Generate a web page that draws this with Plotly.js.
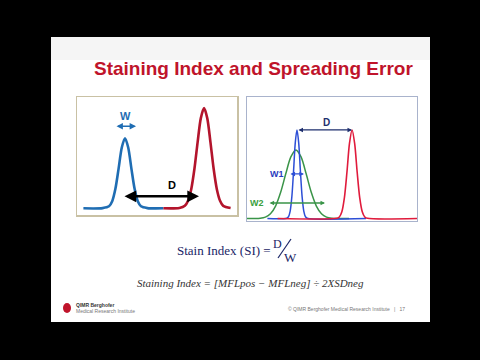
<!DOCTYPE html>
<html><head><meta charset="utf-8">
<script src="https://cdn.plot.ly/plotly-3.0.1.min.js"></script>
<style>html,body{margin:0;padding:0;background:#000;}#chart{width:480px;height:360px;}</style>
</head><body><div id="chart"></div>
<script>
// Left panel: negative (blue) and positive (red) populations
const leftBlueX = [4, 16, 20, 22, 24, 26, 28, 30, 32, 34, 36, 38, 40, 44, 54];
const leftBlueY = [0, 0.2, 1.8, 6.4, 17.5, 35.7, 54.6, 63, 54.6, 35.7, 17.5, 6.4, 1.8, 0.2, 0];
const leftRedX = [54, 64, 67.4, 69.4, 71.4, 73.4, 75.4, 77.4, 79.4, 81.4, 83.4, 85.4, 87.4, 89.4, 91.4, 96];
const leftRedY = [0, 0.3, 2.2, 6.8, 17.2, 35.5, 59.5, 81, 90, 81, 59.5, 35.5, 17.2, 6.8, 2.2, 0.3];
// Right panel: narrow negative (blue), spread negative (green), positive (red)
const rightGreenX = [0, 7.8, 10.8, 13.8, 16.8, 19.8, 22.8, 25.8, 28.8, 31.8, 34.8, 37.8, 40.8, 43.8, 46.8, 49.8, 60];
const rightGreenY = [0, 0.3, 1.2, 3.9, 10.3, 21.6, 36.8, 50.7, 56.4, 50.7, 36.8, 21.6, 10.3, 3.9, 1.2, 0.3, 0];
const rightBlueX = [12, 23.4, 24.4, 25.4, 26.4, 27.4, 28.4, 29.4, 30.4, 31.4, 32.4, 33.4, 34.4, 35.4, 70];
const rightBlueY = [0, 0.3, 1.5, 6.2, 18.2, 39.4, 62.5, 72.9, 62.5, 39.4, 18.2, 6.2, 1.5, 0.3, 0];
const rightRedX = [18, 52.8, 54.3, 55.8, 57.3, 58.8, 60.3, 61.8, 63.3, 64.8, 66.3, 67.8, 69.3, 70.8, 100];
const rightRedY = [0, 0.2, 1.3, 5.6, 17.2, 38.3, 62, 72.9, 62, 38.3, 17.2, 5.6, 1.3, 0.2, 0];
// Measurement arrows [x start, x end, y] and labels
const leftW = [23.75, 36.9, 73.7];
const leftD = [28.75, 76.25, 10.8];
const rightD = [29.4, 61.8, 72.9];
const rightW1 = [24.7, 33.5, 36.7];
const rightW2 = [12.4, 45.9, 12.8];
const labels = ['W', 'D', 'D', 'W1', 'W2'];

const P = (px) => px / 480, Q = (py) => 1 - py / 360;

const traces = [
  {x: leftBlueX, y: leftBlueY, xaxis: 'x', yaxis: 'y', mode: 'lines', line: {color: '#1f6db3', width: 2.6, shape: 'spline', smoothing: 0.8}, hoverinfo: 'skip'},
  {x: leftRedX, y: leftRedY, xaxis: 'x', yaxis: 'y', mode: 'lines', line: {color: '#b3142c', width: 2.6, shape: 'spline', smoothing: 0.8}, hoverinfo: 'skip'},
  {x: rightGreenX, y: rightGreenY, xaxis: 'x2', yaxis: 'y2', mode: 'lines', line: {color: '#3a9448', width: 1.5, shape: 'spline', smoothing: 0.8}, hoverinfo: 'skip'},
  {x: rightBlueX, y: rightBlueY, xaxis: 'x2', yaxis: 'y2', mode: 'lines', line: {color: '#2d4fd6', width: 1.5, shape: 'spline', smoothing: 0.8}, hoverinfo: 'skip'},
  {x: rightRedX, y: rightRedY, xaxis: 'x2', yaxis: 'y2', mode: 'lines', line: {color: '#e01b3c', width: 1.6, shape: 'spline', smoothing: 0.8}, hoverinfo: 'skip'}
];

function arrow(a, xr, yr, color, w, head, size) {
  return {x: a[1], y: a[2], ax: a[0], ay: a[2], xref: xr, yref: yr, axref: xr, ayref: yr,
    text: '', showarrow: true, arrowside: 'end+start', arrowhead: head, arrowsize: size,
    arrowwidth: w, arrowcolor: color};
}
function lab(t, x, y, xr, yr, color, size, xanchor) {
  return {x: x, y: y, xref: xr, yref: yr, text: '<b>' + t + '</b>', showarrow: false,
    font: {family: 'Liberation Sans, Arial', size: size, color: color}, xanchor: xanchor || 'center', yanchor: 'middle'};
}
const serif = 'Liberation Serif, Times New Roman';

const annotations = [
  arrow(leftW, 'x', 'y', '#1f6db3', 1.6, 2, 0.8),
  arrow(leftD, 'x', 'y', '#000000', 2.6, 2, 0.9),
  arrow(rightD, 'x2', 'y2', '#1e2f6e', 1.3, 2, 0.7),
  arrow(rightW1, 'x2', 'y2', '#2d4fd6', 1.3, 2, 0.7),
  arrow(rightW2, 'x2', 'y2', '#3a9448', 1.3, 2, 0.7),
  lab(labels[0], (leftW[0] + leftW[1]) / 2, leftW[2] + 9, 'x', 'y', '#1f6db3', 11),
  lab(labels[1], 59.4, leftD[2] + 10, 'x', 'y', '#000000', 11),
  lab(labels[2], 46.5, rightD[2] + 6, 'x2', 'y2', '#1e2f6e', 10),
  lab(labels[3], rightW1[0] - 1.5, rightW1[2], 'x2', 'y2', '#2b3bc0', 9, 'right'),
  lab(labels[4], rightW2[0] - 1.5, rightW2[2], 'x2', 'y2', '#3aa040', 9, 'right'),
  {x: P(253), y: Q(68), xref: 'paper', yref: 'paper', text: '<b>Staining Index and Spreading Error</b>', showarrow: false,
    font: {family: 'Liberation Sans, Arial', size: 19, color: '#c0142b'}, xanchor: 'center', yanchor: 'middle'},
  {x: P(273), y: Q(250), xref: 'paper', yref: 'paper', text: 'Stain Index (SI) =', showarrow: false,
    font: {family: serif, size: 13, color: '#1a2566'}, xanchor: 'right', yanchor: 'middle'},
  {x: P(277), y: Q(244), xref: 'paper', yref: 'paper', text: 'D', showarrow: false,
    font: {family: serif, size: 12, color: '#1a2566'}, xanchor: 'center', yanchor: 'middle'},
  {x: P(290), y: Q(257), xref: 'paper', yref: 'paper', text: 'W', showarrow: false,
    font: {family: serif, size: 13, color: '#1a2566'}, xanchor: 'center', yanchor: 'middle'},
  {x: P(250), y: Q(283), xref: 'paper', yref: 'paper', text: '<i>Staining Index = [MFLpos − MFLneg] ÷ 2XSDneg</i>', showarrow: false,
    font: {family: serif, size: 11, color: '#333333'}, xanchor: 'center', yanchor: 'middle'},
  {x: P(74), y: Q(305), xref: 'paper', yref: 'paper', text: '<b>QIMR Berghofer</b>', showarrow: false,
    font: {family: 'Liberation Sans, Arial', size: 5, color: '#333333'}, xanchor: 'left', yanchor: 'middle'},
  {x: P(74), y: Q(311), xref: 'paper', yref: 'paper', text: 'Medical Research Institute', showarrow: false,
    font: {family: 'Liberation Sans, Arial', size: 5, color: '#777777'}, xanchor: 'left', yanchor: 'middle'},
  {x: P(407), y: Q(309), xref: 'paper', yref: 'paper', text: '© QIMR Berghofer Medical Research Institute   |   17', showarrow: false,
    font: {family: 'Liberation Sans, Arial', size: 5, color: '#777777'}, xanchor: 'right', yanchor: 'middle'}
];

const shapes = [
  {type: 'rect', xref: 'paper', yref: 'paper', x0: P(51), x1: P(430), y0: Q(322), y1: Q(37), fillcolor: '#ffffff', line: {width: 0}, layer: 'below'},
  {type: 'rect', xref: 'paper', yref: 'paper', x0: P(51), x1: P(430), y0: Q(60), y1: Q(37), fillcolor: '#f5f5f5', line: {width: 0}, layer: 'below'},
  {type: 'line', xref: 'paper', yref: 'paper', x0: P(278), x1: P(291), y0: Q(258), y1: Q(239), line: {color: '#1a2566', width: 1.2}},
  {type: 'circle', xref: 'paper', yref: 'paper', x0: P(63), x1: P(71), y0: Q(313), y1: Q(303), fillcolor: '#c0142b', line: {width: 0}}
];

const axBase = {showgrid: false, zeroline: false, showticklabels: false, ticks: '', mirror: true, showline: true, fixedrange: true};
const layout = {
  width: 480, height: 360, margin: {l: 0, r: 0, t: 0, b: 0},
  paper_bgcolor: '#000000', plot_bgcolor: '#ffffff', showlegend: false,
  xaxis: Object.assign({}, axBase, {domain: [P(77), P(237)], range: [0, 100], linecolor: '#c9c1a4', linewidth: 1.5, anchor: 'y'}),
  yaxis: Object.assign({}, axBase, {domain: [Q(215), Q(97)], range: [-6, 100], linecolor: '#c9c1a4', linewidth: 1.5, anchor: 'x'}),
  xaxis2: Object.assign({}, axBase, {domain: [P(247), P(417)], range: [0, 100], linecolor: '#a9b3cc', linewidth: 1.2, anchor: 'y2'}),
  yaxis2: Object.assign({}, axBase, {domain: [Q(221), Q(97)], range: [-2, 100], linecolor: '#a9b3cc', linewidth: 1.2, anchor: 'x2'}),
  annotations: annotations, shapes: shapes
};
Plotly.newPlot('chart', traces, layout, {displayModeBar: false, staticPlot: true});
</script></body></html>
